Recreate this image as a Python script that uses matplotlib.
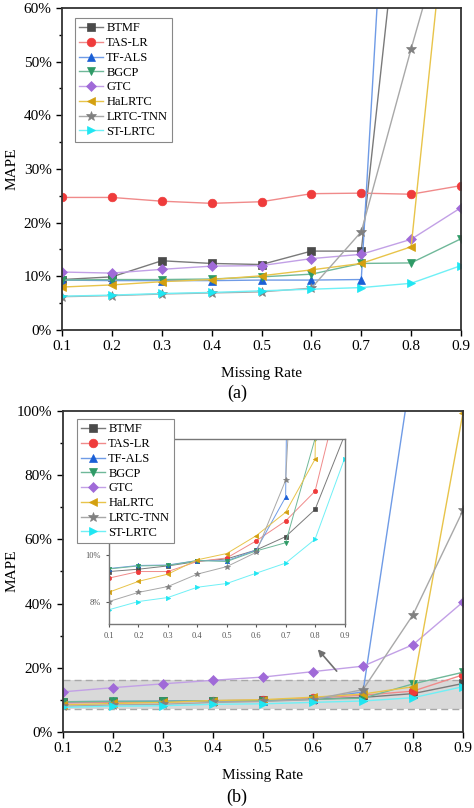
import numpy as np
import matplotlib
matplotlib.use('Agg')
import matplotlib.pyplot as plt
from matplotlib.ticker import PercentFormatter, MultipleLocator

plt.rcParams['font.family'] = ['Liberation Serif', 'DejaVu Serif']

# missing rates and method names
rates = [0.1, 0.2, 0.3, 0.4, 0.5, 0.6, 0.7, 0.8, 0.9]
methods = ['BTMF', 'TAS-LR', 'TF-ALS', 'BGCP', 'GTC', 'HaLRTC', 'LRTC-TNN', 'ST-LRTC']

# panel (a) MAPE in %
a_btmf = [9.4, 9.9, 12.9, 12.4, 12.2, 14.7, 14.7, 100, 130]
a_taslr = [24.7, 24.7, 24.0, 23.6, 23.9, 25.4, 25.5, 25.3, 26.9]
a_tfals = [9.3, 9.2, 9.2, 9.2, 9.3, 9.3, 9.4, 170, 200]
a_bgcp = [9.3, 9.4, 9.4, 9.5, 9.9, 10.4, 12.4, 12.5, 17.0]
a_gtc = [10.8, 10.6, 11.3, 11.9, 12.0, 13.3, 14.1, 16.9, 22.8]
a_halrtc = [8.0, 8.4, 9.0, 9.4, 10.1, 11.2, 12.4, 15.5, 105]
a_lrtctnn = [6.2, 6.4, 6.7, 6.9, 7.1, 7.8, 18.3, 52.4, 85]
a_stlrtc = [6.3, 6.5, 6.8, 7.0, 7.3, 7.6, 7.9, 8.7, 12.0]

# panel (b) MAPE in %
b_btmf = [9.29, 9.39, 9.53, 9.72, 9.83, 10.21, 10.78, 11.94, 15.1]
b_taslr = [9.01, 9.29, 9.29, 9.72, 9.87, 10.6, 11.45, 12.72, 17.8]
b_tfals = [9.42, 9.55, 9.57, 9.76, 9.75, 10.21, 12.47, 116, 150]
b_bgcp = [9.40, 9.53, 9.55, 9.76, 9.72, 10.17, 10.52, 14.97, 18.6]
b_gtc = [12.5, 13.8, 15.0, 16.1, 17.1, 18.8, 20.5, 27.2, 40.5]
b_halrtc = [8.41, 8.87, 9.18, 9.79, 10.06, 10.82, 11.82, 14.09, 99.5]
b_lrtctnn = [8.01, 8.40, 8.65, 9.18, 9.50, 10.11, 13.19, 36.5, 69.0]
b_stlrtc = [7.66, 8.01, 8.18, 8.62, 8.78, 9.22, 9.65, 10.67, 14.11]

data_a = [a_btmf, a_taslr, a_tfals, a_bgcp, a_gtc, a_halrtc, a_lrtctnn, a_stlrtc]
data_b = [b_btmf, b_taslr, b_tfals, b_bgcp, b_gtc, b_halrtc, b_lrtctnn, b_stlrtc]

markers = ['s', 'o', '^', 'v', 'D', '<', '*', '>']
msizes = [5.5, 6.2, 6.2, 6.2, 5.2, 6.2, 7.8, 6.2]
mcolors = ['#4a4a4a', '#ef3b3b', '#1a5fd6', '#2e9a66', '#a06ad8', '#d4a010', '#808080', '#1fe6f2']
lcolors = ['#7a7a7a', '#f08a8a', '#6f9be6', '#6fb899', '#c2a0e6', '#e8c44a', '#a8a8a8', '#6ff0f6']


def style_main(ax, ymax, major, minor):
    ax.set_xlim(0.1, 0.9)
    ax.set_ylim(0, ymax)
    ax.set_xticks(rates)
    ax.set_xticklabels(['%.1f' % r for r in rates], fontsize=11)
    ax.yaxis.set_major_locator(MultipleLocator(major))
    ax.yaxis.set_minor_locator(MultipleLocator(minor))
    ax.yaxis.set_major_formatter(PercentFormatter(100, decimals=0))
    ax.tick_params(axis='y', labelsize=11)
    ax.tick_params(which='major', direction='out', length=4, width=1)
    ax.tick_params(which='minor', direction='out', length=2.5, width=1)
    for sp in ax.spines.values():
        sp.set_linewidth(1.3)
        sp.set_color('#333333')
    ax.set_xlabel('Missing Rate', fontsize=11, labelpad=10)


def plot_lines(ax, data, ms_scale=1.0, lw=1.0, skip=()):
    handles = []
    for i, vals in enumerate(data):
        if methods[i] in skip:
            continue
        h, = ax.plot(rates, vals, color=lcolors[i], lw=lw, marker=markers[i],
                     ms=msizes[i] * ms_scale, mfc=mcolors[i], mec=mcolors[i],
                     mew=0.5, label=methods[i])
        handles.append(h)
    return handles


leg_kw = dict(loc='upper left', fontsize=9, frameon=True, fancybox=False,
              edgecolor='#888888', handlelength=1.9, handletextpad=0.25,
              labelspacing=0.22, borderpad=0.35, borderaxespad=0, framealpha=1)

fig = plt.figure(figsize=(4.74, 8.08), dpi=100)

# ---- panel (a)
ax1 = fig.add_axes([0.1308, 0.5916, 0.8418, 0.3985])
hs = plot_lines(ax1, data_a)
style_main(ax1, 60, 10, 5)
leg = fig.legend(handles=hs, bbox_to_anchor=(75 / 474, 1 - 18 / 808), **leg_kw)
leg.get_frame().set_linewidth(0.8)
fig.text(12 / 474, 1 - 169 / 808, 'MAPE', rotation=90, ha='center', va='center', fontsize=11)
fig.text(0.5, 1 - 393 / 808, '(a)', ha='center', va='center', fontsize=13)

# ---- panel (b)
ax2 = fig.add_axes([0.1329, 0.0941, 0.8439, 0.3973])
ax2.axhspan(7.1, 16.3, facecolor='#d9d9d9', edgecolor='none', zorder=0)
ax2.axhline(7.1, color='#a8a8a8', ls=(0, (5, 3)), lw=1, zorder=0.5)
ax2.axhline(16.3, color='#a8a8a8', ls=(0, (5, 3)), lw=1, zorder=0.5)
hs2 = plot_lines(ax2, data_b)
style_main(ax2, 100, 20, 10)
ax2.annotate('', xy=(0.606, 26.4), xytext=(0.651, 18.3),
             arrowprops=dict(arrowstyle='-|>', color='#707070', lw=1.2,
                             mutation_scale=10))
fig.text(12 / 474, 1 - 571 / 808, 'MAPE', rotation=90, ha='center', va='center', fontsize=11)
fig.text(0.5, 1 - 797 / 808, '(b)', ha='center', va='center', fontsize=13)

# inset zoom of the grey band
axi = fig.add_axes([109 / 474, 1 - 624 / 808, 235.5 / 474, 185 / 808])
plot_lines(axi, data_b, ms_scale=0.5, lw=0.7, skip=('GTC',))
axi.set_xlim(0.1, 0.9)
axi.set_ylim(7.05, 14.95)
axi.set_xticks(rates)
axi.set_xticklabels(['%.1f' % r for r in rates], fontsize=6)
axi.yaxis.set_major_locator(MultipleLocator(2))
axi.yaxis.set_major_formatter(PercentFormatter(100, decimals=0))
axi.tick_params(axis='y', labelsize=6)
axi.tick_params(direction='out', length=2.5, width=0.8, colors='#555555')
for sp in axi.spines.values():
    sp.set_linewidth(1.0)
    sp.set_color('#777777')

leg2 = fig.legend(handles=hs2, bbox_to_anchor=(77 / 474, 1 - 419 / 808), **leg_kw)
leg2.get_frame().set_linewidth(0.8)
leg2.set_zorder(10)

fig.savefig('out.png', dpi=100)
